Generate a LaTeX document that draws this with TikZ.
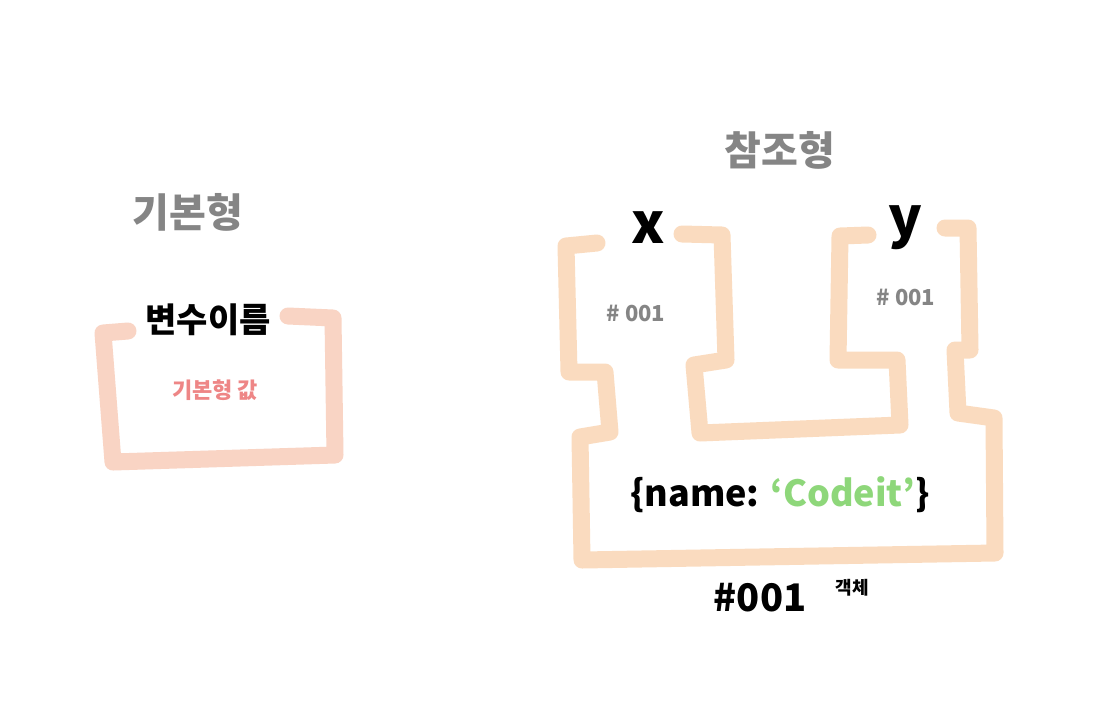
\documentclass[tikz,border=0pt]{standalone}
\usepackage{fontspec}
\setmainfont{Noto Sans CJK KR}
\newcommand\krb{\bfseries}
\begin{document}
\begin{tikzpicture}[x=1pt,y=-1pt,
  pbox/.style={draw=peach,line width=17pt,line cap=round,line join=round},
  obox/.style={draw=orng,line width=17pt,line cap=round,line join=round,opacity=0.55},
  ttl/.style={text=titlegray,font=\krb\fontsize{40}{42}\selectfont},
  blk/.style={text=black,font=\krb\fontsize{34}{36}\selectfont}]
\definecolor{peach}{HTML}{F9D4C4}
\definecolor{orng}{HTML}{F7BF8C}
\definecolor{titlegray}{HTML}{858585}
\definecolor{pinkt}{HTML}{EE8686}
\definecolor{greent}{HTML}{8ED77A}
\useasboundingbox (0,0) rectangle (1107,713);
\fill[white] (0,0) rectangle (1107,713);
% left box
\draw[pbox] (128,331) -- (103,333) -- (113,462) -- (335,455) -- (333,318) -- (288,316);
\node[blk] (var) at (208,320) {변수이름};
\node[text=pinkt,font=\krb\fontsize{22}{24}\selectfont] (val) at (215,390) {기본형 값};
\node[ttl] (prim) at (188,212) {기본형};
% right
\node[ttl] (ref) at (780,150) {참조형};
\draw[obox] (597,243) -- (566,246) -- (569,372) -- (605,372) -- (610,432) -- (580,437) -- (582,560) -- (995,553) -- (994,418) -- (958,413) -- (955,350) -- (970,350) -- (968,228) -- (945,228);
\draw[obox] (682,234) -- (722,235) -- (726,360) -- (694,365) -- (700,433) -- (900,425) -- (897,360) -- (838,360) -- (840,236) -- (868,235);
\node[blk,font=\krb\fontsize{56}{58}\selectfont] (x) at (648,228) {x};
\node[blk,font=\krb\fontsize{56}{58}\selectfont] (y) at (905,228) {y};
\node[text=titlegray,font=\krb\fontsize{22}{24}\selectfont] (ax) at (636,313) {\# 001};
\node[text=titlegray,font=\krb\fontsize{22}{24}\selectfont] (ay) at (906,297) {\# 001};
\node[font=\krb\fontsize{36}{38}\selectfont] (obj) at (780,495) {\{name: \textcolor{greent}{‘Codeit’}\}};
\node[blk,font=\krb\fontsize{38}{40}\selectfont] (addr) at (760,598) {\#001};
\node[font=\krb\fontsize{18}{20}\selectfont] (gaek) at (852,588) {객체};
\end{tikzpicture}
\end{document}
